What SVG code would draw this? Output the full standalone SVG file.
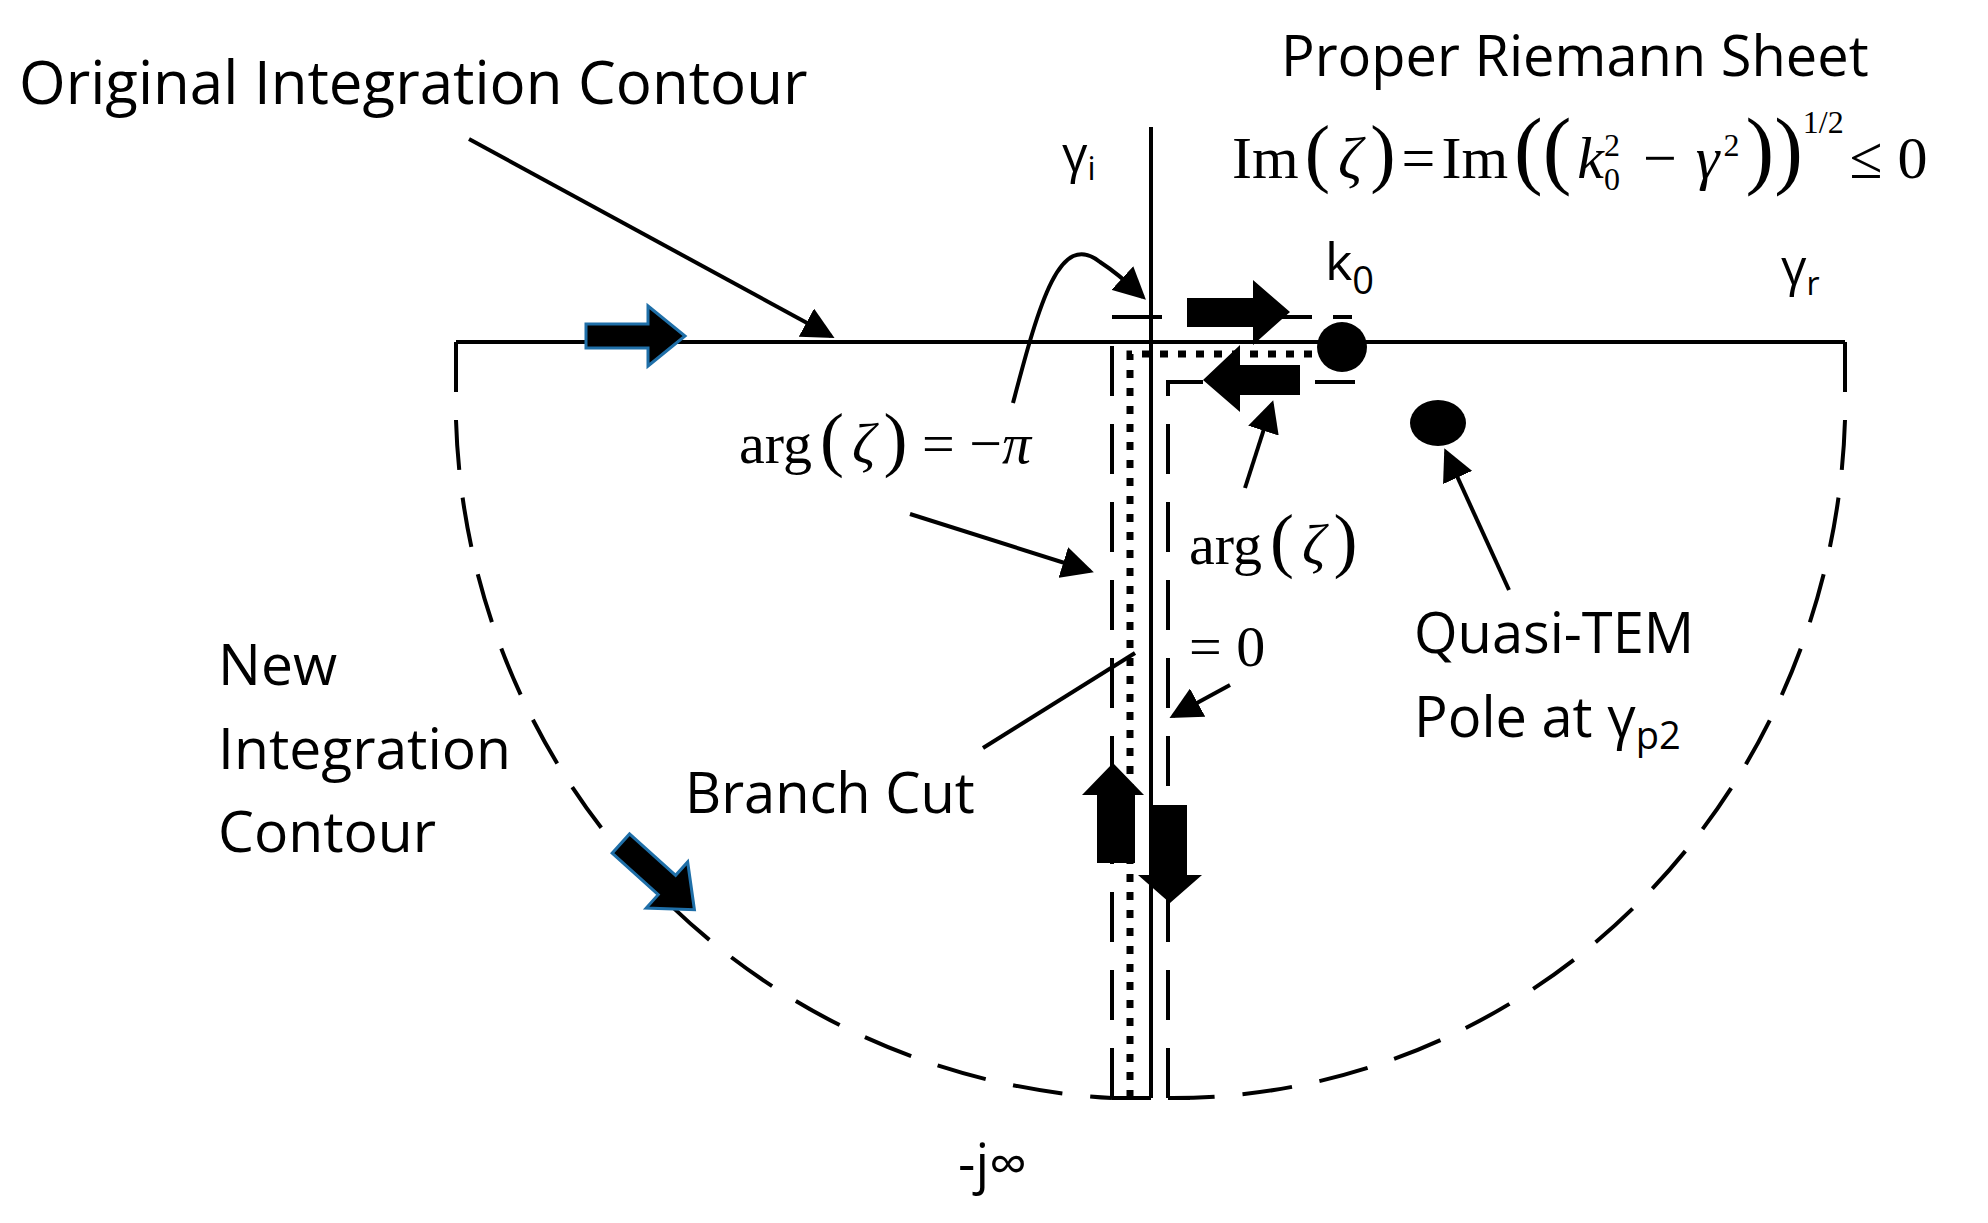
<svg xmlns="http://www.w3.org/2000/svg" width="1988" height="1223" viewBox="0 0 1988 1223">
<style>
.s{font-family:"Open Sans","Liberation Sans",sans-serif;fill:#000}
.m{font-family:"Liberation Serif",serif;fill:#000}
.ln{stroke:#000;stroke-width:4;fill:none}
.d{stroke:#000;stroke-width:4;fill:none;stroke-dasharray:50 28}
.dt{stroke:#000;stroke-width:7;fill:none;stroke-dasharray:8 10}
</style>
<defs>
<marker id="ah" markerWidth="8" markerHeight="8" refX="7" refY="4" orient="auto" markerUnits="strokeWidth">
<path d="M0,0 L8,4 L0,8 z" fill="#000"/>
</marker>
</defs>
<rect width="1988" height="1223" fill="#fff"/>
<g id="axes">
<line class="ln" x1="456" y1="342" x2="1845" y2="342"/>
<line class="ln" x1="1151" y1="127" x2="1151" y2="1098"/>
</g>
<g id="contour">
<path class="d" d="M456,342 L456,420 A695,700 0 0 0 1112,1098"/>
<path class="d" d="M1845,342 L1845,420 A673,700 0 0 1 1168,1098"/>
<path class="d" d="M1112,1098 L1112,345 M1112,317 L1163,317"/>
<path class="d" d="M1168,1098 L1168,382 L1203,382"/>
<path class="ln" d="M1112,1098 L1151,1098 M1168,1098 L1190,1098"/>
<line class="ln" x1="1253" y1="317" x2="1312" y2="317"/>
<line class="ln" x1="1333" y1="317" x2="1352" y2="317"/>
<line class="ln" x1="1315" y1="382" x2="1355" y2="382"/>
<path class="dt" d="M1130,1098 L1130,354 L1320,354"/>
</g>
<g id="poles">
<circle cx="1342" cy="347" r="25"/>
<ellipse cx="1438" cy="423" rx="28" ry="23"/>
</g>
<g id="arrows">
<path d="M1187,298 L1253,298 L1253,280 L1290,312 L1253,345 L1253,327 L1187,327 z"/>
<path d="M1300,365 L1240,365 L1240,345 L1203,380 L1240,412 L1240,395 L1300,395 z"/>
<path d="M1097,863 L1097,795 L1082,795 L1113,763 L1144,795 L1135,795 L1135,863 z"/>
<path d="M1150,805 L1187,805 L1187,875 L1202,875 L1170,903 L1138,875 L1150,875 z"/>
<path d="M586,324 L648,324 L648,306 L685,336 L648,366 L648,348 L586,348 z" stroke="#1f6fa8" stroke-width="3"/>
<path transform="translate(658,877) rotate(42)" d="M-50,-13 L12,-13 L12,-31 L49,0 L12,31 L12,13 L-50,13 z" stroke="#1f6fa8" stroke-width="3"/>
</g>
<g id="connectors">
<line class="ln" x1="469" y1="139" x2="831" y2="336" marker-end="url(#ah)"/>
<path class="ln" d="M1013,403 C1040,300 1060,230 1100,262 C1120,275 1130,285 1143,297" marker-end="url(#ah)"/>
<line class="ln" x1="910" y1="514" x2="1090" y2="571" marker-end="url(#ah)"/>
<line class="ln" x1="1245" y1="488" x2="1272" y2="404" marker-end="url(#ah)"/>
<line class="ln" x1="1230" y1="685" x2="1173" y2="716" marker-end="url(#ah)"/>
<line class="ln" x1="983" y1="748" x2="1135" y2="653"/>
<line class="ln" x1="1509" y1="590" x2="1446" y2="452" marker-end="url(#ah)"/>
</g>
<g id="labels">
<text class="s" x="19" y="104" font-size="60">Original Integration Contour</text>
<text class="s" x="1281" y="76" font-size="56">Proper Riemann Sheet</text>
<text class="m" x="1232" y="178" font-size="60">Im<tspan font-size="76" dx="6">(</tspan><tspan font-style="italic" dx="8">ζ</tspan><tspan font-size="76" dx="8">)</tspan><tspan dx="6">=</tspan><tspan dx="6">Im</tspan><tspan font-size="86" dx="6">((</tspan><tspan font-style="italic" dx="6">k</tspan><tspan font-size="32" dy="-22">2</tspan><tspan font-size="32" dx="-16" dy="34">0</tspan><tspan dy="-12" dx="8"> − </tspan><tspan font-style="italic" dx="4">γ</tspan><tspan font-size="32" dy="-22" dx="4">2</tspan><tspan font-size="86" dy="22" dx="6">))</tspan><tspan font-size="32" dy="-45">1/2</tspan><tspan dy="45" dx="6">≤ 0</tspan></text>
<text class="s" x="1062" y="172" font-size="50">γ<tspan font-size="32" dy="8">i</tspan></text>
<text class="s" x="1781" y="285" font-size="50">γ<tspan font-size="32" dy="10">r</tspan></text>
<text class="s" x="1325" y="280" font-size="52">k<tspan font-size="38" dy="14">0</tspan></text>
<text class="m" x="739" y="463" font-size="58">arg<tspan font-size="72" dx="8">(</tspan><tspan font-style="italic" dx="8">ζ</tspan><tspan font-size="72" dx="8">)</tspan> = −<tspan font-style="italic">π</tspan></text>
<text class="m" x="1189" y="564" font-size="58">arg<tspan font-size="72" dx="8">(</tspan><tspan font-style="italic" dx="8">ζ</tspan><tspan font-size="72" dx="8">)</tspan></text>
<text class="m" x="1189" y="666" font-size="58">= 0</text>
<text class="s" x="1414" y="653" font-size="56">Quasi-TEM</text>
<text class="s" x="1414" y="737" font-size="56">Pole at γ<tspan font-size="38" dy="12">p2</tspan></text>
<text class="s" x="218" y="685" font-size="57">New</text>
<text class="s" x="218" y="769" font-size="57">Integration</text>
<text class="s" x="218" y="852" font-size="57">Contour</text>
<text class="s" x="685" y="813" font-size="56">Branch Cut</text>
<text class="s" x="958" y="1183" font-size="54">-j∞</text>
</g>
</svg>
